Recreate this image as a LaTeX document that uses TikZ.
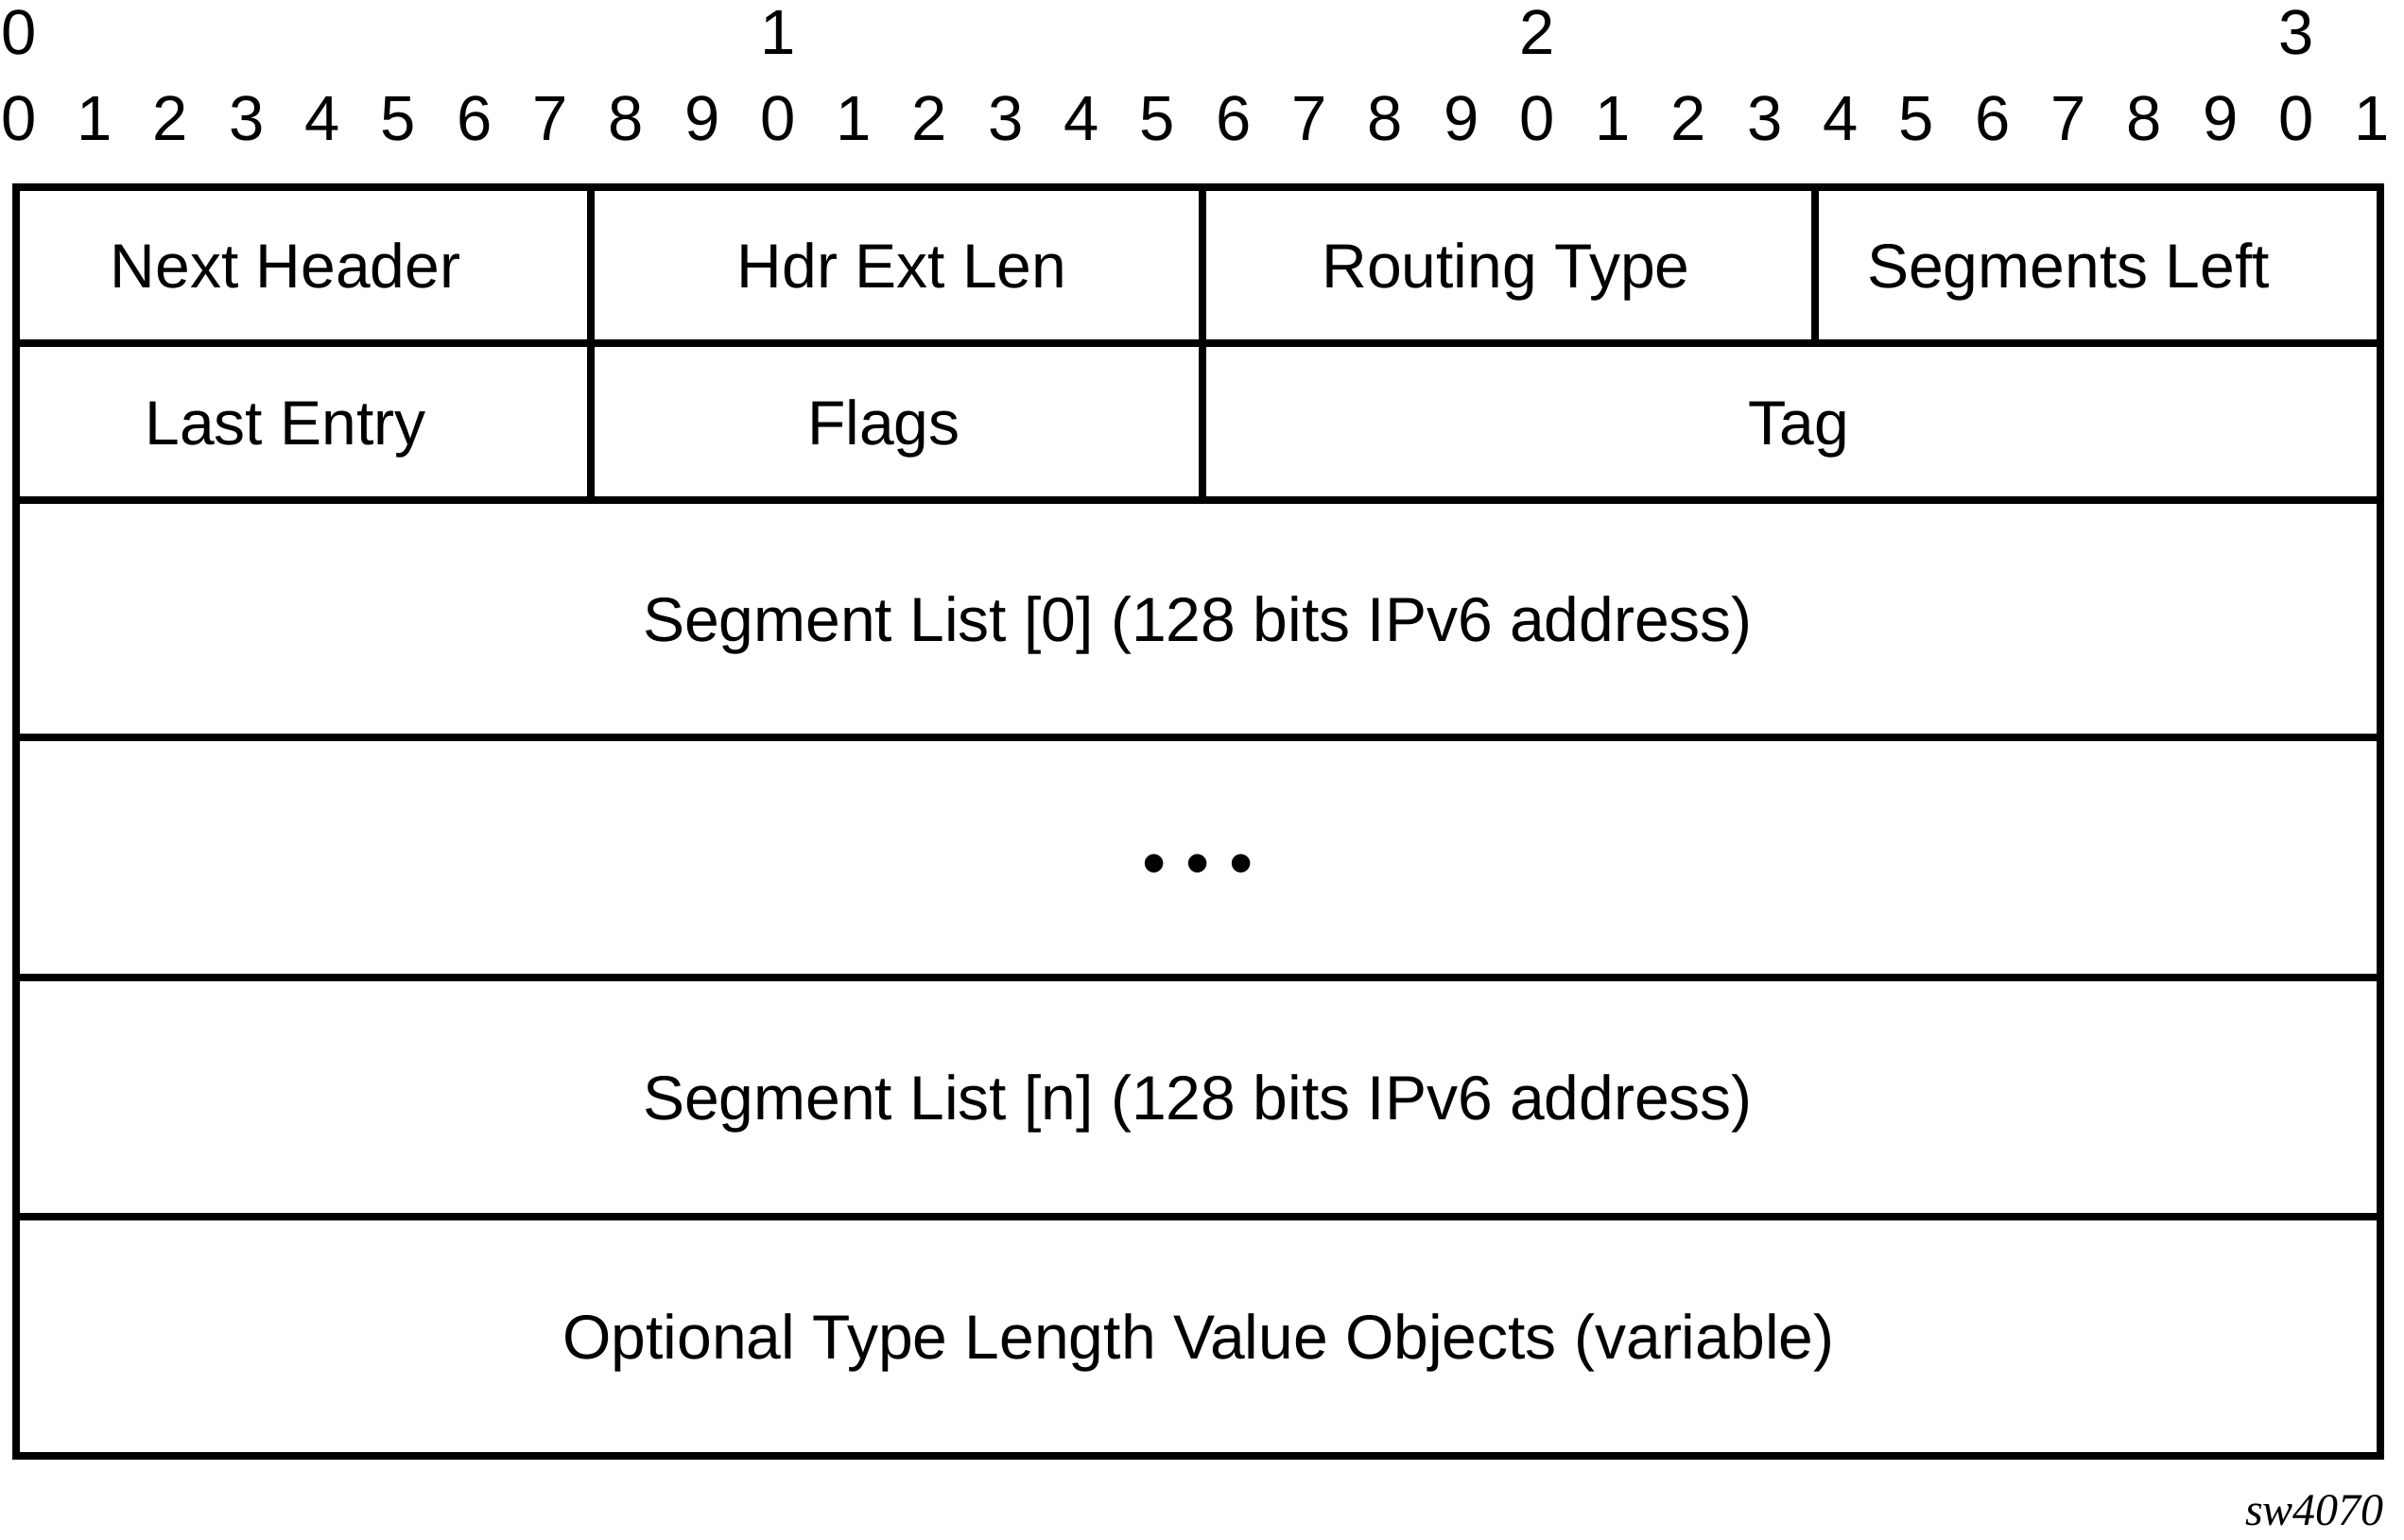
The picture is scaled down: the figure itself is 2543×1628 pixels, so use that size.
\documentclass[tikz,border=0pt]{standalone}
\usepackage{fontspec}
\setmainfont{Liberation Sans}
\newfontfamily\figserif{Liberation Serif}
\begin{document}
\begin{tikzpicture}[x=1pt,y=-1pt,
  grid/.style={line width=8pt, line join=miter, draw=black},
  lbl/.style={anchor=base, inner sep=0pt, font=\fontsize{66}{80}\selectfont},
  bitnum/.style={anchor=base, inner sep=0pt, font=\fontsize{67}{80}\selectfont},
  figtag/.style={anchor=base east, inner sep=0pt, font=\figserif\itshape\fontsize{48}{58}\selectfont}
]
\useasboundingbox (0,0) rectangle (2543,1628);
% outer frame
\draw[grid] (16.7,197.5) rectangle (2518,1539.5);
% row separators
\foreach \yy in {362.5,529,780,1034,1287}
  \draw[grid] (16.7,\yy) -- (2518,\yy);
% column separators, row 1
\foreach \xx in {625,1271.5,1920}
  \draw[grid] (\xx,197.5) -- (\xx,362.5);
% column separators, row 2
\foreach \xx in {624.5,1272}
  \draw[grid] (\xx,362.5) -- (\xx,529);
% bit numbers
\foreach \i in {0,...,31}{
  \pgfmathtruncatemacro\dg{mod(\i,10)}
  \node[bitnum] (b\i) at (20+80.3*\i,148) {\dg};
}
\node[bitnum] (t0) at (20,57) {0};
\node[bitnum] (t1) at (20+80.3*10,57) {1};
\node[bitnum] (t2) at (20+80.3*20,57) {2};
\node[bitnum] (t3) at (20+80.3*30,57) {3};
% field labels
\node[lbl] (nh)  at (302,304) {Next Header};
\node[lbl] (hel) at (954,304) {Hdr Ext Len};
\node[lbl] (rt)  at (1593,304) {Routing Type};
\node[lbl] (sl)  at (2188,304) {Segments Left};
\node[lbl] (le)  at (302,470) {Last Entry};
\node[lbl] (fl)  at (935,470) {Flags};
\node[lbl] (tag) at (1903,470) {Tag};
\node[lbl] (s0)  at (1267,678.5) {Segment List [0] (128 bits IPv6 address)};
\node[lbl, font=\fontsize{72}{80}\selectfont] (dots) at (1267,937) {•\hspace{21pt}•\hspace{21pt}•};
\node[lbl] (sn)  at (1267,1184.5) {Segment List [n] (128 bits IPv6 address)};
\node[lbl] (tlv) at (1268,1437) {Optional Type Length Value Objects (variable)};
\node[figtag] (fig) at (2522,1613) {sw4070};
\end{tikzpicture}
\end{document}
